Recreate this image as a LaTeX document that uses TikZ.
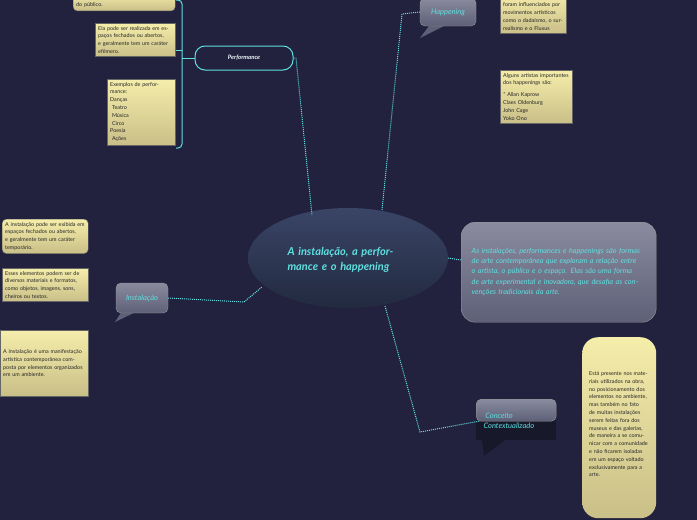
\documentclass[tikz,border=0pt]{standalone}
\usepackage{fontspec}
\setmainfont{Lato}
\usetikzlibrary{shapes.geometric}
\definecolor{bg}{HTML}{23223E}
\definecolor{cy}{HTML}{5EE0E0}
\definecolor{noteA}{HTML}{F5EDAA}
\definecolor{noteB}{HTML}{C9BF88}
\definecolor{callA}{HTML}{8A8B9E}
\definecolor{callB}{HTML}{5E6078}
\definecolor{ellA}{HTML}{3A4566}
\definecolor{ellB}{HTML}{222A40}
\tikzset{
 note/.style={draw=black!60, line width=0.4pt, top color=noteA, bottom color=noteB, inner sep=3pt, anchor=north west, align=left, font=\fontsize{5.4}{7.8}\selectfont, text=black!85},
 conn/.style={cy, densely dotted, line width=1pt},
 brk/.style={cy, line width=1pt, rounded corners=4pt},
 calltext/.style={text=cy, font=\fontsize{7.5}{10}\selectfont\itshape},
 callbox/.style={top color=callA, bottom color=callB, rounded corners=5pt, draw=black!40},
}
\begin{document}
\begin{tikzpicture}[x=1pt,y=-1pt]
\fill[bg] (0,0) rectangle (697,520);
\useasboundingbox (0,0) rectangle (697,520);
% central
\node[ellipse, minimum width=200, minimum height=100, top color=ellA, bottom color=ellB, inner sep=0] (c) at (348,258) {};
\node[text=cy, font=\fontsize{11}{15}\selectfont\bfseries\itshape, align=left, text width=115] (ct) at (345,260) {A instalação, a performance e o happening};
% Performance
\node[draw=cy, line width=1pt, rounded corners=10pt, minimum width=98, minimum height=24, text=white!90!cy, font=\fontsize{6}{8}\selectfont\bfseries\itshape] (perf) at (244,58) {Performance};
\draw[brk] (perf.west) -- (182,58);
\draw[brk] (176,0) -| (182,148) -- (176,148);
\draw[brk] (182,50) -- (176,50);
\node[note, text width=96, rounded corners=4pt] (p1) at (73,-8) {envolve a presença do artista e\\do público.};
\node[note, text width=74] (p2) at (95,23) {Ela pode ser realizada em espaços fechados ou abertos, e geralmente tem um caráter efêmero.};
\node[note, text width=62] (p3) at (107,79) {Exemplos de performance:\\Danças\\\ Teatro\\\ Música\\\ Circo\\Poesia\\\ Ações};
\coordinate (pk) at (296,58);
\draw[conn] (perf.east) -- (pk) -- (312,215);
% Happening
\fill[callB] (432,22) -- (420,38) -- (448,24) -- cycle;
\node[callbox, minimum width=56, minimum height=28, calltext] (hap) at (448,12) {Happening};
\coordinate (hk) at (402,14);
\draw[conn] (382,210) -- (hk) -- (hap.west);
\node[note, text width=60] (h1) at (500,-8) {Estados Unidos. Eles foram influenciados por movimentos artísticos como o dadaísmo, o surrealismo e o Fluxus};
\node[note, text width=66] (h2) at (500,70) {Alguns artistas importantes dos happenings são:\\[4pt] * Allan Kaprow\\* Claes Oldenburg\\* John Cage\\* Yoko Ono};
\fill[bg] (495,64) rectangle (575,69);
% big box
\node[callbox, rounded corners=14pt, minimum width=195, minimum height=100, anchor=north west, text width=180, align=left, text=cy, font=\fontsize{7.3}{10.3}\selectfont\itshape, inner sep=0] (big) at (461,222) {\hspace*{0pt}\\[-2pt]\hspace*{3pt}\parbox{176pt}{As instalações, performances e happenings são formas de arte contemporânea que exploram a relação entre o artista, o público e o espaço. Elas são uma forma de arte experimental e inovadora, que desafia as convenções tradicionais da arte.}\\[12pt]};
\draw[conn] (448,258) -- (461,260);
% Instalacao
\fill[callB] (124,308) -- (115,322) -- (140,310) -- cycle;
\node[callbox, minimum width=52, minimum height=30, calltext] (ins) at (142,298) {Instalação};
\coordinate (ik) at (244,302);
\draw[conn] (ins.east) -- (ik) -- (262,287);
\node[note, rounded corners=4pt, text width=80] (i1) at (2,219) {A instalação pode ser exibida em espaços fechados ou abertos, e geralmente tem um caráter temporário.};
\node[note, text width=80] (i2) at (2,268) {Esses elementos podem ser de diversos materiais e formatos, como objetos, imagens, sons, cheiros ou textos.};
\node[note, text width=82, minimum height=66] (i3) at (0,330) {A instalação é uma manifestação artística contemporânea composta por elementos organizados em um ambiente.};
% Conceito
\fill[bg!70!black] (482,440) -- (484,456) -- (505,440) -- cycle;
\fill[bg!70!black] (476,420) rectangle (556,440);
\node[callbox, minimum width=80, minimum height=22, anchor=north west, calltext, align=left] (con) at (476,399) {};
\node[calltext, align=left, anchor=west] (cont) at (480,421) {\ Conceito\\Contextualizado};
\coordinate (ck) at (420,432);
\draw[conn] (385,306) -- (ck) -- (cont.west);
\node[note, rounded corners=16pt, text width=68, minimum height=181, anchor=north west, draw=none] (cn) at (582,337) {\hspace*{0pt}\\[-8pt]\hspace*{4pt}\parbox{60pt}{Está presente nos materiais utilizados na obra, no posicionamento dos elementos no ambiente, mas também no fato de muitas instalações serem feitas fora dos museus e das galerias, de maneira a se comunicar com a comunidade e não ficarem isoladas em um espaço voltado exclusivamente para a arte.}};
\end{tikzpicture}
\end{document}
